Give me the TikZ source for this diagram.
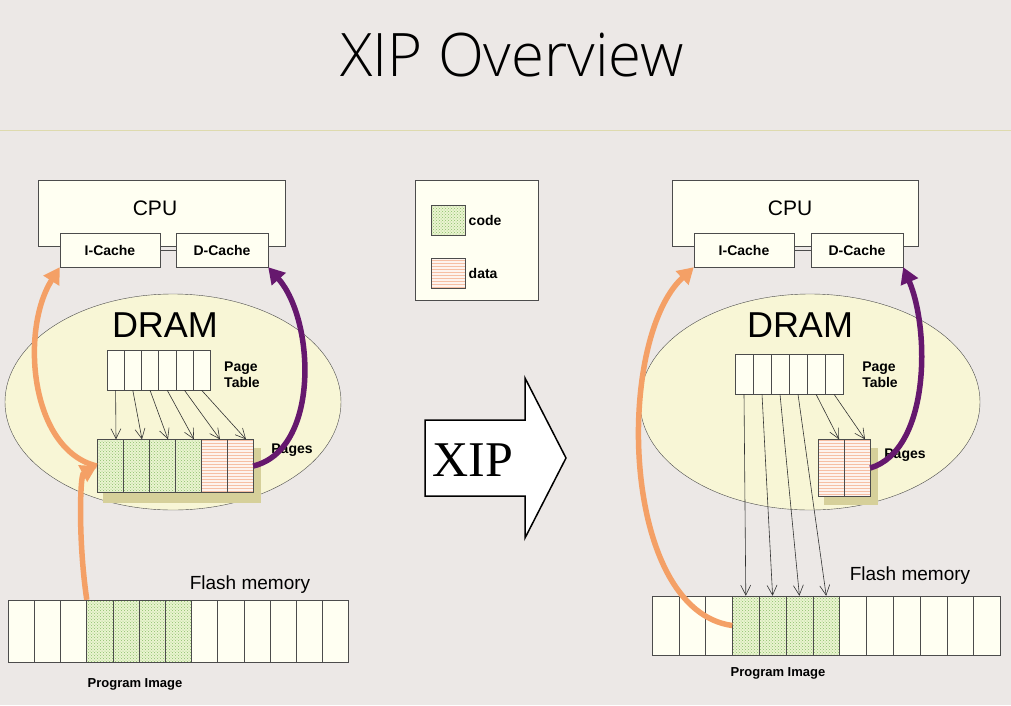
\documentclass[tikz,border=0pt]{standalone}
\usepackage{fontspec}
\setmainfont{Liberation Sans}
\newfontfamily\xipserif{Liberation Serif}
\newfontfamily\xiptitle{Open Sans Light}
\usetikzlibrary{arrows.meta}
\usetikzlibrary{patterns}
\definecolor{bgcol}{HTML}{ECE8E6}
\definecolor{boxcol}{HTML}{FFFFF2}
\definecolor{dramcol}{HTML}{F8F6D6}
\definecolor{shadowcol}{HTML}{D6D09A}
\definecolor{codecol}{HTML}{EAF4D0}
\definecolor{codedots}{HTML}{8CBF6A}
\definecolor{datacol}{HTML}{FDF3EE}
\definecolor{datalines}{HTML}{F6BFA4}
\definecolor{orangearrow}{HTML}{F4A066}
\definecolor{purplearrow}{HTML}{66186E}
\tikzset{
    cell/.style = {draw=black!70, fill=boxcol, inner sep=0pt},
    code/.style = {draw=black!70, inner sep=0pt, preaction={fill=codecol}, pattern=crosshatch dots, pattern color=codedots},
    data/.style = {draw=black!70, inner sep=0pt, preaction={fill=datacol}, pattern=horizontal lines, pattern color=datalines},
    cache/.style = {draw=black!70, fill=boxcol, minimum height=34pt,
        font=\fontsize{14}{14}\selectfont\bfseries},
    lbl/.style = {font=\fontsize{14}{16}\selectfont\bfseries, align=left},
    ptr/.style = {-{Straight Barb[length=10pt,width=10pt]}, black!80, semithick},
    fat/.style = {line width=5.5pt, -{Triangle[length=16pt,width=18pt]}},
}
\begin{document}
\begin{tikzpicture}[x=1pt,y=-1pt]
\fill[bgcol] (0,0) rectangle (1011,705);
\useasboundingbox (0,0) rectangle (1011,705);
% title
\node[font=\fontsize{60}{60}\selectfont\xiptitle] (title) at (512,55) {XIP Overview};
\draw[shadowcol!80, line width=1pt] (0,130) -- (1011,130);

% ---------- left: without XIP ----------
\draw[black!70, fill=dramcol] (173,402) ellipse (168 and 108);
\node[font=\fontsize{36}{36}\selectfont] (ldram) at (165,325) {DRAM};
\draw[cell] (38,180) rectangle (285,246);
\node[font=\fontsize{21}{21}\selectfont] (lcpu) at (155,208) {CPU};
\node[cache, minimum width=100pt] (licache) at (110,250) {I-Cache};
\node[cache, minimum width=92pt] (ldcache) at (222,250) {D-Cache};
\draw[black!70] (licache) -- (ldcache);
\foreach \i in {0,...,5}
    \node[cell, minimum width=17.2pt, minimum height=40pt] (lpt\i) at (115.6+17.2*\i,370) {};
\node[lbl] (lptlbl) at (242,375) {Page\\Table};
\fill[shadowcol] (103,448) rectangle (261,503);
\foreach \i in {0,...,3}
    \node[code, minimum width=26pt, minimum height=53pt] (lpg\i) at (110+26*\i,466) {};
\foreach \i in {4,5}
    \node[data, minimum width=26pt, minimum height=53pt] (lpg\i) at (110+26*\i,466) {};
\node[lbl] (lpglbl) at (292,450) {Pages};
\foreach \i in {0,...,5}
    \draw[ptr] (lpt\i.south) -- ([xshift=6pt]lpg\i.north);
\foreach \i in {0,...,12}
    \node[cell, minimum width=26.2pt, minimum height=62pt] (lfl\i) at (21.1+26.2*\i,631) {};
\foreach \i in {3,...,6}
    \node[code, minimum width=26.2pt, minimum height=62pt] at (lfl\i) {};
\node[font=\fontsize{19}{19}\selectfont] (lfllbl) at (250,585) {Flash memory};
\node[lbl, font=\fontsize{13}{13}\selectfont\bfseries] (lprog) at (135,684) {Program Image};
\draw[fat, orangearrow] (lfl2.north east) .. controls (78,540) and (80,475) .. (lpg0.west);
\draw[fat, orangearrow] (lpg0.west) .. controls (30,450) and (20,330) .. (licache.south west);
\draw[fat, purplearrow] (lpg5.east) .. controls (320,450) and (315,320) .. (ldcache.south east);

% ---------- legend ----------
\draw[cell] (415,180) rectangle (538,300);
\node[code, minimum width=34pt, minimum height=30pt] (lgcode) at (448,220) {};
\node[data, minimum width=34pt, minimum height=30pt] (lgdata) at (448,273) {};
\node[lbl, anchor=west] (lgcodelbl) at (lgcode.east) {code};
\node[lbl, anchor=west] (lgdatalbl) at (lgdata.east) {data};

% ---------- XIP arrow ----------
\draw[black, line width=1.5pt, fill=white] (425,420) -- (525,420) -- (525,378) -- (566,458)
    -- (525,538) -- (525,496) -- (425,496) -- cycle;
\node[font=\fontsize{50}{50}\selectfont\xipserif] (xip) at (473,460) {XIP};

% ---------- right: with XIP ----------
\draw[black!70, fill=dramcol] (810,402) ellipse (170 and 108);
\node[font=\fontsize{36}{36}\selectfont] (rdram) at (800,325) {DRAM};
\draw[cell] (672,180) rectangle (918,246);
\node[font=\fontsize{21}{21}\selectfont] (rcpu) at (790,208) {CPU};
\node[cache, minimum width=100pt] (ricache) at (744,250) {I-Cache};
\node[cache, minimum width=92pt] (rdcache) at (857,250) {D-Cache};
\draw[black!70] (ricache) -- (rdcache);
\foreach \i in {0,...,5}
    \node[cell, minimum width=18pt, minimum height=40pt] (rpt\i) at (744+18*\i,374) {};
\node[lbl] (rptlbl) at (880,375) {Page\\Table};
\fill[shadowcol] (824,448) rectangle (878,505);
\foreach \i in {0,1}
    \node[data, minimum width=26pt, minimum height=57pt] (rpg\i) at (831+26*\i,468) {};
\node[lbl] (rpglbl) at (905,455) {Pages};
\foreach \i in {0,...,12}
    \node[cell, minimum width=26.8pt, minimum height=59pt] (rfl\i) at (665.4+26.8*\i,625.5) {};
\foreach \i in {3,...,6}
    \node[code, minimum width=26.8pt, minimum height=59pt] at (rfl\i) {};
\node[font=\fontsize{19}{19}\selectfont] (rfllbl) at (910,576) {Flash memory};
\node[lbl, font=\fontsize{13}{13}\selectfont\bfseries] (rprog) at (778,673) {Program Image};
\foreach \i/\j in {0/3,1/4,2/5,3/6}
    \draw[ptr] (rpt\i.south) -- (rfl\j.north);
\foreach \i in {4,5}
    \draw[ptr] (rpt\i.south) -- ([xshift=8pt]rpg\number\numexpr\i-4\relax.north);
\draw[fat, orangearrow] (rfl3.west) .. controls (620,610) and (615,340) .. (ricache.south west);
\draw[fat, purplearrow] (rpg1.east) .. controls (930,450) and (930,330) .. (rdcache.south east);
\end{tikzpicture}
\end{document}
